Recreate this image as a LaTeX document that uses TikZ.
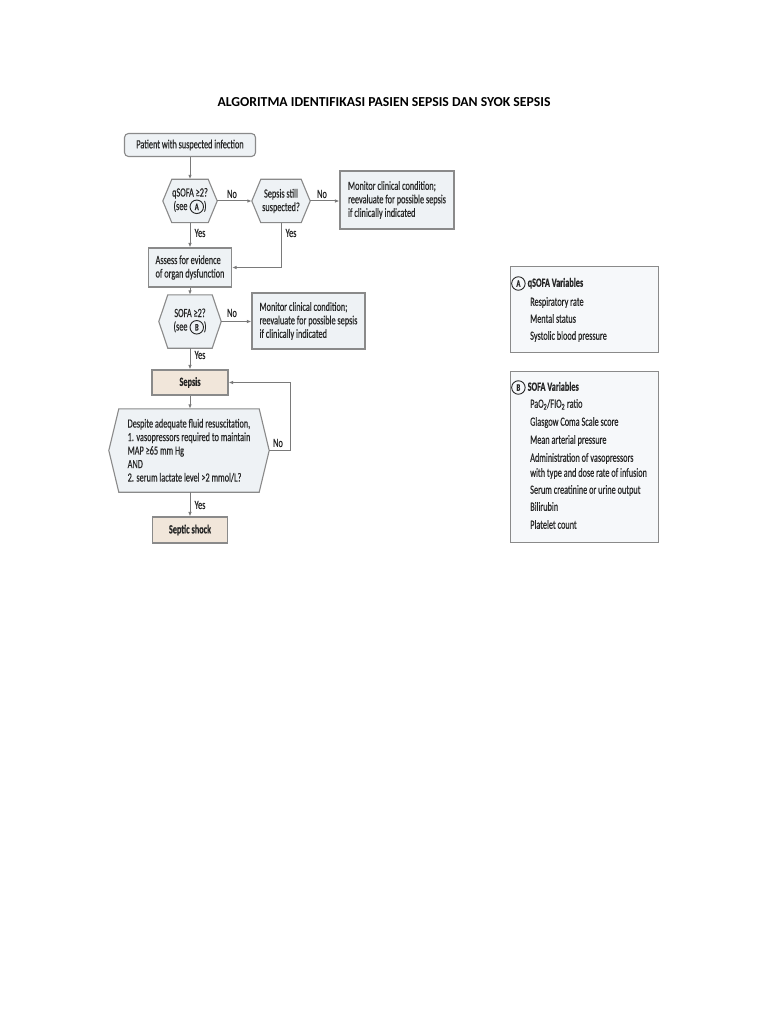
\documentclass[tikz,border=0pt]{standalone}
\usepackage{fontspec}
\setmainfont{Carlito}
\newfontfamily\cond[FakeStretch=0.66,FakeBold=0.4]{Carlito}
\usetikzlibrary{arrows.meta,backgrounds}
\definecolor{bord}{HTML}{8A8A8A}
\definecolor{boxfill}{HTML}{EEF2F5}
\definecolor{beige}{HTML}{F1E6DA}
\definecolor{linec}{HTML}{7A7A7A}
\definecolor{varfill}{HTML}{F6F8FA}
\definecolor{ink}{HTML}{262626}
\newcommand\circlet[1]{\tikz[baseline=(cl.base)]\node[circle,draw=ink,line width=0.9pt,inner sep=0pt,minimum size=13.5pt,font=\cond\bfseries\fontsize{10}{10}\selectfont](cl){#1};}
\newcommand\hexa[2]{\draw[hexs] (#1.west) -- ([xshift=#2pt]#1.north west) -- ([xshift=-#2pt]#1.north east) -- (#1.east) -- ([xshift=-#2pt]#1.south east) -- ([xshift=#2pt]#1.south west) -- cycle;}
\begin{document}
\begin{tikzpicture}[x=1pt,y=-1pt,
  txt/.style={font=\cond\fontsize{12.5}{13.5}\selectfont, text=ink, inner sep=0pt},
  rbox/.style={txt, draw=bord, fill=boxfill, line width=1.1pt, align=left},
  pbox/.style={rbox, fill=beige, align=center, font=\cond\bfseries\fontsize{12.5}{13.5}\selectfont},
  hexn/.style={txt, align=center},
  hexs/.style={draw=bord, fill=boxfill, line width=1.1pt},
  conn/.style={draw=linec, line width=1pt, -{Latex[length=4.5pt,width=3.5pt]}},
  vbox/.style={draw=bord, fill=varfill, line width=1pt, inner sep=0pt},
  vtxt/.style={txt, anchor=west, text height=8pt, text depth=2.5pt}]
\useasboundingbox (0,0) rectangle (768,1024);

\node[txt, font=\bfseries\fontsize{13.7}{15}\selectfont, text=black] (title) at (384,102) {ALGORITMA IDENTIFIKASI PASIEN SEPSIS DAN SYOK SEPSIS};

% main flow
\node[rbox, rounded corners=4pt, align=center, minimum width=131pt, minimum height=23pt] (p1) at (190,145) {Patient with suspected infection};
\node[hexn, minimum width=54pt, minimum height=43pt] (q1) at (190,201) {qSOFA ≥2?\\(see\,\circlet{A})};
\node[hexn, minimum width=58pt, minimum height=43pt] (s1) at (281,201) {Sepsis still\\suspected?};
\node[rbox, minimum width=114pt, minimum height=58pt] (m1) at (397,200) {Monitor clinical condition;\\reevaluate for possible sepsis\\if clinically indicated};
\node[rbox, minimum width=83pt, minimum height=39pt] (a1) at (190,267.5) {Assess for evidence\\of organ dysfunction};
\node[hexn, minimum width=62pt, minimum height=53pt] (q2) at (190,321.5) {SOFA ≥2?\\(see\,\circlet{B})};
\node[rbox, minimum width=113pt, minimum height=56pt] (m2) at (308.5,321) {Monitor clinical condition;\\reevaluate for possible sepsis\\if clinically indicated};
\node[pbox, minimum width=76pt, minimum height=25pt] (sep) at (190,382.5) {Sepsis};
\node[hexn, align=left, minimum width=160pt, minimum height=83pt] (big) at (189,450.5) {Despite adequate fluid resuscitation,\\1. vasopressors required to maintain\\MAP ≥65 mm Hg\\AND\\2. serum lactate level >2 mmol/L?};
\node[pbox, minimum width=75pt, minimum height=26pt] (shock) at (190,530) {Septic shock};

\begin{scope}[on background layer]
\fill[white] (0,0) rectangle (768,1024);
\hexa{q1}{9}
\hexa{s1}{9}
\hexa{q2}{9}
\hexa{big}{10}
\end{scope}

% labels
\node[txt] (l1) at (232,194) {No};
\node[txt] (l2) at (322,194) {No};
\node[txt] (l3) at (200,233) {Yes};
\node[txt] (l4) at (291,233) {Yes};
\node[txt] (l5) at (232,313) {No};
\node[txt] (l6) at (200,355) {Yes};
\node[txt] (l7) at (278,443) {No};
\node[txt] (l8) at (200,505) {Yes};

% connectors
\coordinate (loop) at (290,450.5);
\draw[conn] (p1.south) -- (q1.north);
\draw[conn] (q1.east) -- (s1.west);
\draw[conn] (s1.east) -- (s1.east -| m1.west);
\draw[conn] (q1.south) -- (a1.north);
\draw[conn] (s1.south) |- (a1.east);
\draw[conn] (a1.south) -- (q2.north);
\draw[conn] (q2.east) -- (q2.east -| m2.west);
\draw[conn] (q2.south) -- (sep.north);
\draw[conn] (sep.south) -- (sep.south |- big.north);
\draw[conn] (big.east) -- (loop) |- (sep.east);
\draw[conn] (shock.north |- big.south) -- (shock.north);

% variable boxes
\node[vbox, minimum width=148pt, minimum height=86pt] (va) at (584,309) {};
\node[vbox, minimum width=148pt, minimum height=171pt] (vb) at (584,456.5) {};

\node[vtxt] (va0) at (511,284) {\circlet{A}\,\bfseries qSOFA Variables};
\node[vtxt] (va1) at (530,303) {Respiratory rate};
\node[vtxt] (va2) at (530,320) {Mental status};
\node[vtxt] (va3) at (530,337) {Systolic blood pressure};

\node[vtxt] (vb0) at (511,388) {\circlet{B}\,\bfseries SOFA Variables};
\node[vtxt] (vb1) at (530,405) {PaO\textsubscript{2}/FIO\textsubscript{2} ratio};
\node[vtxt] (vb2) at (530,423) {Glasgow Coma Scale score};
\node[vtxt] (vb3) at (530,441) {Mean arterial pressure};
\node[vtxt] (vb4) at (530,459) {Administration of vasopressors};
\node[vtxt] (vb5) at (530,474) {with type and dose rate of infusion};
\node[vtxt] (vb6) at (530,491) {Serum creatinine or urine output};
\node[vtxt] (vb7) at (530,508) {Bilirubin};
\node[vtxt] (vb8) at (530,526) {Platelet count};
\end{tikzpicture}
\end{document}
